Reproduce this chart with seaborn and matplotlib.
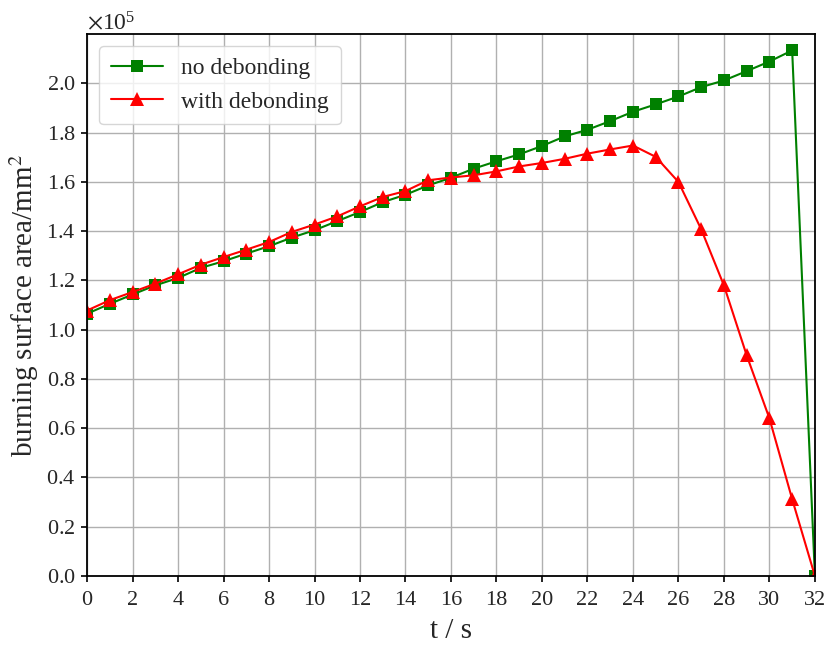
import numpy as np
import pandas as pd
import matplotlib
matplotlib.use("Agg")
import matplotlib.pyplot as plt
import seaborn as sns
from matplotlib.ticker import ScalarFormatter, MultipleLocator, FixedLocator

# time steps (s)
t = list(range(0, 33))

# burning surface area (mm^2)
no_debonding = [1.065e5, 1.105e5, 1.143e5, 1.180e5, 1.210e5, 1.251e5, 1.278e5, 1.309e5,
                1.339e5, 1.374e5, 1.404e5, 1.441e5, 1.478e5, 1.518e5, 1.548e5, 1.586e5,
                1.617e5, 1.654e5, 1.684e5, 1.712e5, 1.746e5, 1.785e5, 1.812e5, 1.847e5,
                1.885e5, 1.915e5, 1.947e5, 1.985e5, 2.012e5, 2.050e5, 2.089e5, 2.134e5,
                0.0]
with_debonding = [1.078e5, 1.120e5, 1.153e5, 1.187e5, 1.225e5, 1.264e5, 1.295e5, 1.325e5,
                  1.356e5, 1.397e5, 1.427e5, 1.460e5, 1.501e5, 1.539e5, 1.563e5, 1.607e5,
                  1.618e5, 1.627e5, 1.643e5, 1.663e5, 1.677e5, 1.694e5, 1.715e5, 1.732e5,
                  1.748e5, 1.702e5, 1.600e5, 1.408e5, 1.180e5, 0.896e5, 0.640e5, 0.312e5,
                  0.0]
y_ticks = [0.0, 0.2e5, 0.4e5, 0.6e5, 0.8e5, 1.0e5, 1.2e5, 1.4e5, 1.6e5, 1.8e5, 2.0e5]

sns.set_style("ticks")
plt.rcParams['font.family'] = ['Liberation Serif', 'DejaVu Serif']
plt.rcParams['mathtext.fontset'] = 'stix'

fig = plt.figure(figsize=(8.29, 6.45), dpi=100)
ax = fig.add_axes([0.105, 0.107, 0.878, 0.840])

sns.lineplot(x=t, y=no_debonding, ax=ax, color='green', marker='s', markersize=8,
             markeredgewidth=0, linewidth=1.5, label='no debonding')
sns.lineplot(x=t, y=with_debonding, ax=ax, color='red', marker='^', markersize=9.5,
             markeredgewidth=0, linewidth=1.5, label='with debonding')

ax.set_xlim(0, 32)
ax.set_ylim(0, 2.2e5)
ax.xaxis.set_major_locator(MultipleLocator(2))
ax.yaxis.set_major_locator(FixedLocator(y_ticks))

fmt = ScalarFormatter(useMathText=True)
fmt.set_powerlimits((0, 0))
ax.yaxis.set_major_formatter(fmt)
ax.yaxis.get_offset_text().set_fontsize(17)

ax.grid(True, color='#b0b0b0', linewidth=1.0)
ax.set_axisbelow(True)
for sp in ax.spines.values():
    sp.set_color('black')
    sp.set_linewidth(1.3)

ax.tick_params(labelsize=16, direction='out', length=4.5, width=1.2, color='black')
ax.tick_params(axis='x', pad=6)
ax.set_xlabel('t / s', fontsize=21, labelpad=6)
ax.set_ylabel('burning surface area/mm$^2$', fontsize=21, labelpad=4)

ax.legend(loc='upper left', fontsize=17, frameon=True, fancybox=True,
          borderpad=0.5, handlelength=2.2, edgecolor='#cccccc')

fig.savefig('out.png', dpi=100)
